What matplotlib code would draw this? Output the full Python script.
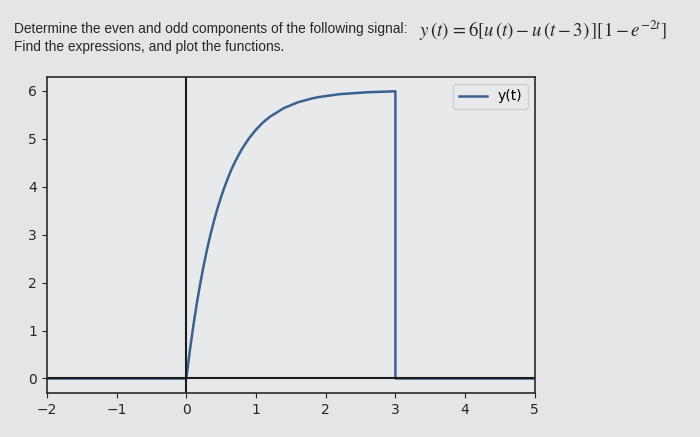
import matplotlib
matplotlib.use("Agg")
import matplotlib.pyplot as plt

# values
t_vals = [-2.0, 0.0, 0.0, 0.05, 0.1, 0.15, 0.2, 0.25, 0.3, 0.35, 0.4, 0.45, 0.5, 0.55, 0.6,
          0.65, 0.7, 0.75, 0.8, 0.85, 0.9, 0.95, 1.0, 1.1, 1.2, 1.3, 1.4, 1.5, 1.6, 1.7,
          1.8, 1.9, 2.0, 2.2, 2.4, 2.6, 2.8, 3.0, 3.0, 5.0]
y_vals = [0.0, 0.0, 0.0, 0.57, 1.09, 1.56, 1.98, 2.36, 2.71, 3.02, 3.30, 3.56, 3.79, 4.00, 4.19,
          4.37, 4.52, 4.66, 4.79, 4.90, 5.01, 5.10, 5.19, 5.34, 5.46, 5.55, 5.64, 5.70, 5.76, 5.80,
          5.84, 5.87, 5.89, 5.93, 5.95, 5.97, 5.98, 5.99, 0.0, 0.0]
x_ticks = [-2, -1, 0, 1, 2, 3, 4, 5]
y_ticks = [0, 1, 2, 3, 4, 5, 6]
legend_label = "y(t)"
line1 = "Determine the even and odd components of the following signal:"
line2 = "Find the expressions, and plot the functions."
formula = r"$y\,(t)\,=6[u\,(t)-u\,(t-3)\,][1-e^{-2t}]$"

bg = "#e3e5e7"
txt = "#262626"
plt.rcParams["font.family"] = ["Liberation Sans", "DejaVu Sans"]
plt.rcParams["mathtext.fontset"] = "stix"

fig = plt.figure(figsize=(7.0, 4.37), dpi=100, facecolor=bg)
ax = fig.add_axes([0.067, 0.101, 0.697, 0.723])
ax.set_facecolor("#e8e9ea")

ax.plot(t_vals, y_vals, color="#3a6290", lw=1.8, label=legend_label)
ax.axhline(0, color="#1c1c1c", lw=1.5)
ax.axvline(0, color="#1c1c1c", lw=1.5)
ax.set_xlim(-2, 5)
ax.set_ylim(-0.3, 6.29)
ax.set_xticks(x_ticks)
ax.set_xticklabels(["\u22122", "\u22121", "0", "1", "2", "3", "4", "5"])
ax.set_yticks(y_ticks)
for s in ax.spines.values():
    s.set_color("#2a2a2a")
    s.set_linewidth(1.2)
ax.tick_params(colors=txt, labelsize=10, labelcolor=txt)
for lab in ax.get_xticklabels() + ax.get_yticklabels():
    lab.set_family("DejaVu Sans")
leg = ax.legend(loc="upper right", frameon=True, prop={"family": "DejaVu Sans", "size": 10})
leg.get_frame().set_facecolor("#e8e9ea")
leg.get_frame().set_edgecolor("#c8c8c8")

fig.text(0.02, 0.925, line1, fontsize=9.9, color=txt, ha="left", va="baseline")
fig.text(0.02, 0.883, line2, fontsize=9.9, color=txt, ha="left", va="baseline")
fig.text(0.598, 0.915, formula, fontsize=13.5, color=txt, ha="left", va="baseline")

fig.savefig("out.png", dpi=100, facecolor=bg)
